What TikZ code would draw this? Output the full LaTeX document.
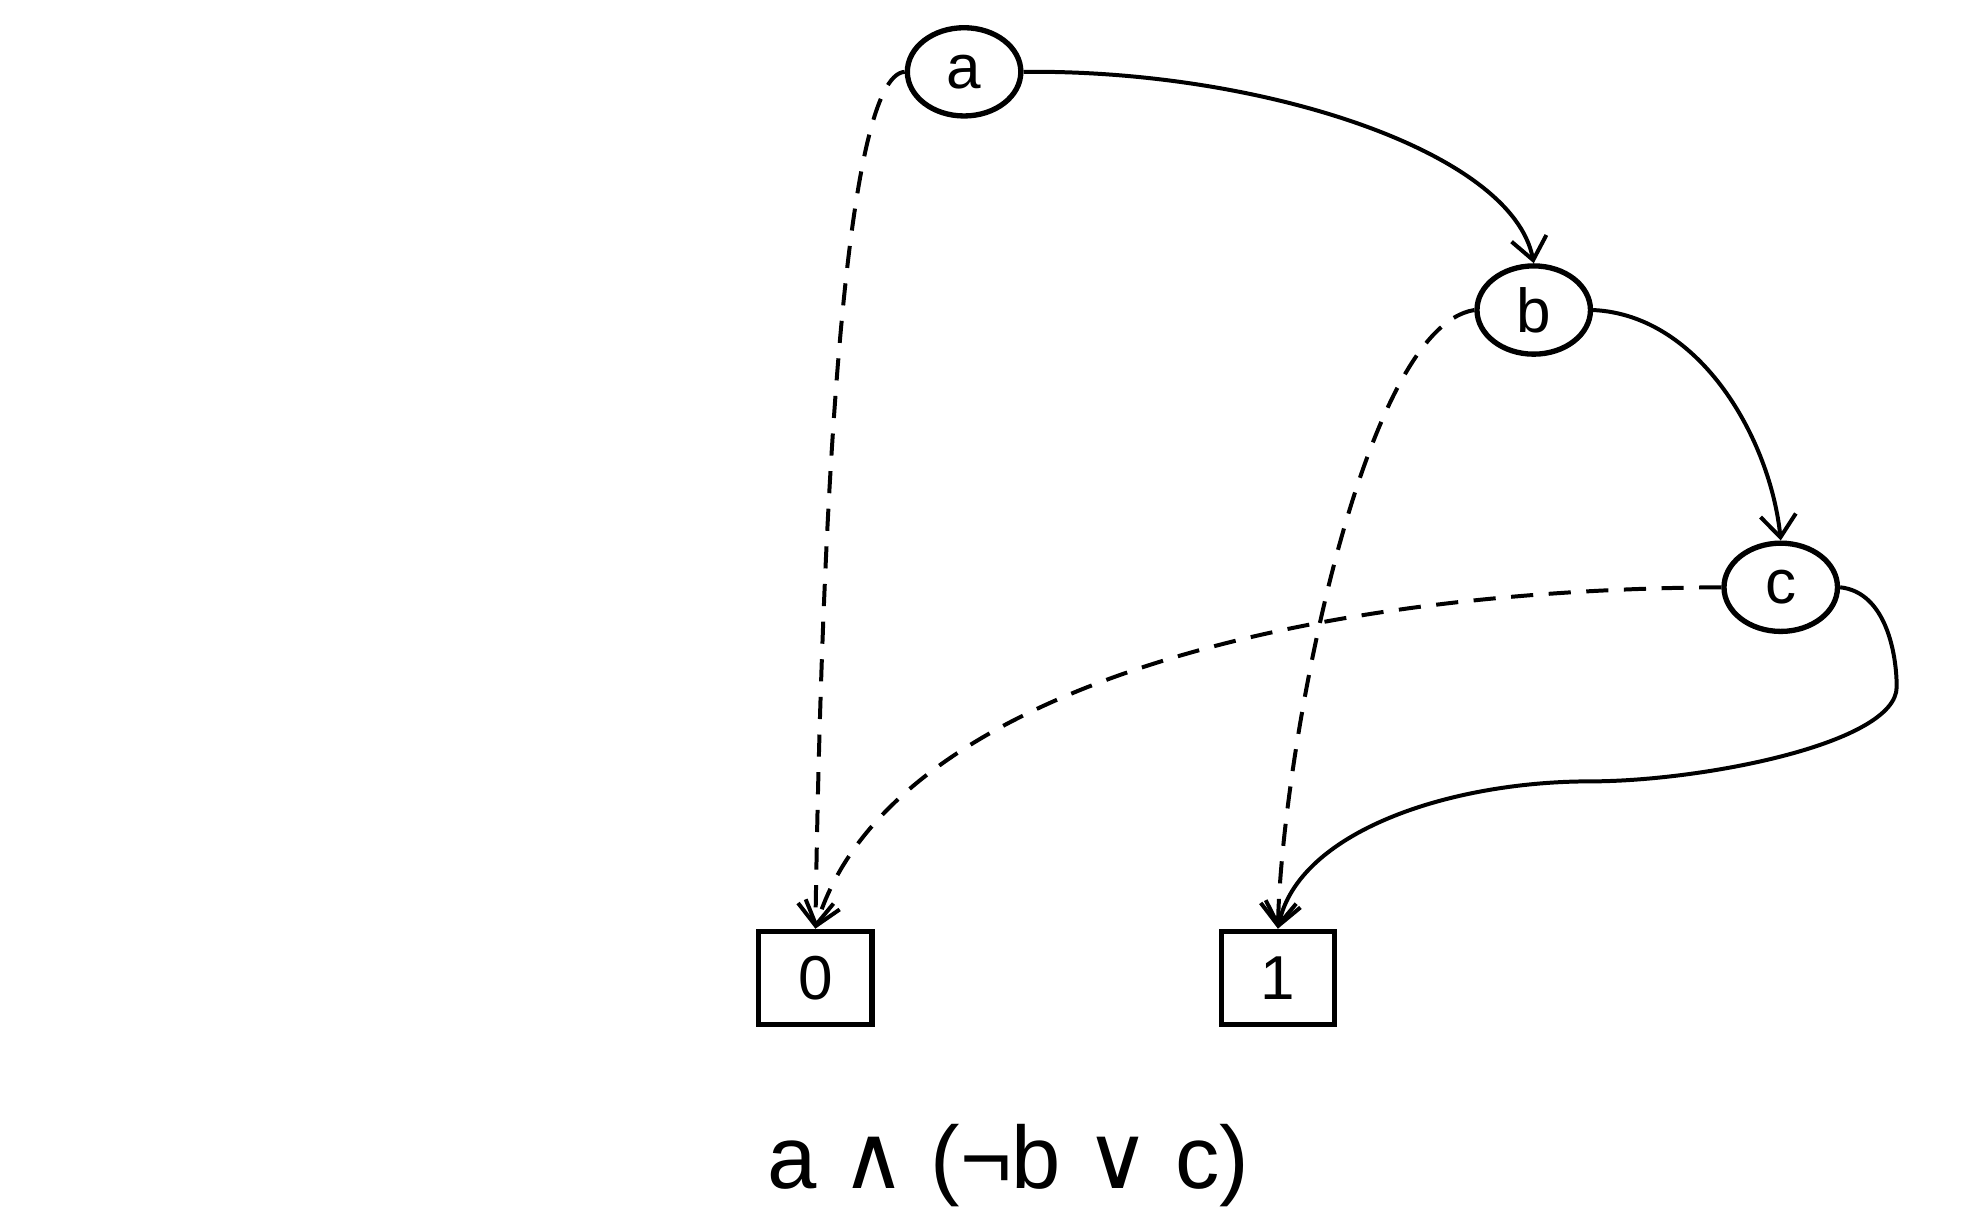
\documentclass[tikz,border=0pt]{standalone}
\usepackage{fontspec}
\setmainfont{Liberation Sans}
\newfontfamily\symfont{DejaVu Sans}
\usetikzlibrary{arrows.meta,shapes.geometric}
\begin{document}
\begin{tikzpicture}[x=0.01cm,y=-0.01cm,
  var/.style={draw,line width=1.2pt,ellipse,minimum width=0.9cm,minimum height=0.7cm,inner sep=0pt,font=\fontsize{14}{16}\selectfont},
  term/.style={draw,line width=1.2pt,rectangle,minimum width=0.9cm,minimum height=0.74cm,inner sep=0pt,font=\fontsize{14}{16}\selectfont},
  edge/.style={line width=0.9pt,-{Straight Barb[length=5pt,width=8pt]}},
  lo/.style={edge,dashed,dash pattern=on 5pt off 3.5pt}]
\useasboundingbox (0,0) rectangle (1560,975);
\node[var] (a) at (765,57) {a};
\node[var] (b) at (1217,246) {b};
\node[var] (c) at (1413,466) {c};
\node[term] (t0) at (647,776) {0};
\node[term] (t1) at (1014,776) {1};
\node[font=\fontsize{20}{24}\selectfont] (f) at (800,925) {a {\symfont ∧} (¬b {\symfont ∨} c)};
\coordinate (k1) at (1505,545);
\coordinate (k2) at (1262,620);
\draw[edge] (a.east) .. controls (1000,55) and (1200,120) .. (b.north);
\draw[lo] (a.west) .. controls (670,60) and (652,400) .. (t0.north);
\draw[lo] (b.west) .. controls (1080,260) and (1017,600) .. (t1.north);
\draw[edge] (b.east) .. controls (1350,250) and (1405,350) .. (c.north);
\draw[lo] (c.west) .. controls (1000,468) and (700,560) .. (t0.north);
\draw[edge] (c.east) .. controls (1497,470) and (1505,520) .. (k1) .. controls (1505,590) and (1350,620) .. (k2) .. controls (1150,620) and (1030,660) .. (t1.north);
\end{tikzpicture}
\end{document}
